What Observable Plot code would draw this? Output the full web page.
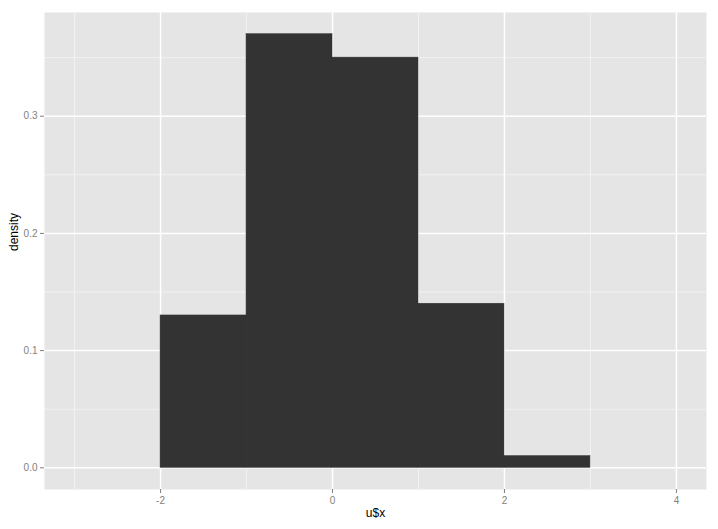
<!DOCTYPE html>
<html>
<head>
<meta charset="utf-8">
<script src="https://cdn.jsdelivr.net/npm/d3@7"></script>
<script src="https://cdn.jsdelivr.net/npm/@observablehq/plot@0.6"></script>
<style>
  html, body { margin: 0; padding: 0; background: #ffffff; }
  svg { display: block; }
</style>
</head>
<body>
<div id="chart"></div>
<script>
const binStart = [-3, -2, -1, 0, 1, 2, 3];
const binEnd   = [-2, -1, 0, 1, 2, 3, 4];
const density  = [0, 0.13, 0.37, 0.35, 0.14, 0.01, 0];
const xTicks = [-2, 0, 2, 4];
const xMinor = [-3, -1, 1, 3];
const yTicks = [0, 0.1, 0.2, 0.3];
const yMinor = [0.05, 0.15, 0.25, 0.35];
const xLabel = "u$x";
const yLabel = "density";

const bins = binStart.map((s, i) => ({x1: s, x2: binEnd[i], y: density[i]}));

const xMin = d3.min(binStart), xMax = d3.max(binEnd);
const xPad = (xMax - xMin) * 0.05;
const yMax = d3.max(density);
const yPad = yMax * 0.05;

const chart = Plot.plot({
  width: 718,
  height: 529,
  marginLeft: 44,
  marginRight: 12,
  marginTop: 12,
  marginBottom: 40,
  style: {fontFamily: "Liberation Sans, Arial, sans-serif", background: "#ffffff"},
  x: {domain: [xMin - xPad, xMax + xPad], axis: null},
  y: {domain: [-yPad, yMax + yPad], axis: null},
  marks: [
    Plot.frame({fill: "#e5e5e5", stroke: null}),
    Plot.ruleX(xMinor, {stroke: "#f2f2f2", strokeWidth: 1}),
    Plot.ruleY(yMinor, {stroke: "#f2f2f2", strokeWidth: 1}),
    Plot.ruleX(xTicks, {stroke: "#ffffff", strokeWidth: 1.5}),
    Plot.ruleY(yTicks, {stroke: "#ffffff", strokeWidth: 1.5}),
    Plot.rectY(bins.filter(d => d.y > 0), {x1: "x1", x2: "x2", y1: 0, y2: "y", fill: "#333333", stroke: "#333333", strokeWidth: 0.5, inset: 0}),
    Plot.axisX(xTicks, {tickSize: 4, tickPadding: 3, stroke: "#7f7f7f", fill: "#7f7f7f", fontSize: 10, label: null, tickFormat: d => d}),
    Plot.axisY(yTicks, {tickSize: 4, tickPadding: 3, stroke: "#7f7f7f", fill: "#7f7f7f", fontSize: 10, label: null, tickFormat: d3.format(".1f")}),
    Plot.text([xLabel], {frameAnchor: "bottom", dy: 27, fontSize: 12, fill: "#000000"}),
    Plot.text([yLabel], {frameAnchor: "left", dx: -30, rotate: -90, fontSize: 12, fill: "#000000"})
  ]
});
document.getElementById("chart").appendChild(chart);
</script>
</body>
</html>
